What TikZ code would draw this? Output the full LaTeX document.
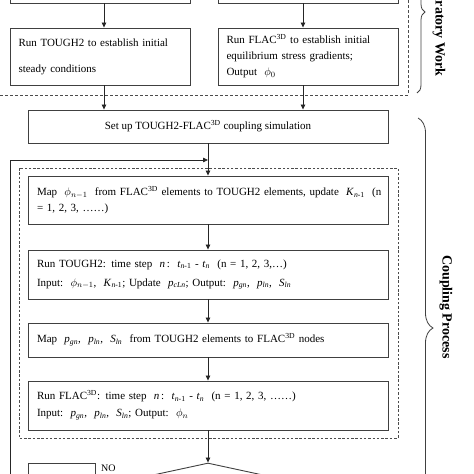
\documentclass[tikz,border=0pt]{standalone}
\usepackage{fontspec}
\setmainfont{Liberation Serif}
\usetikzlibrary{arrows.meta,shapes.geometric,decorations.pathreplacing}
\newcommand{\vr}[2]{\textit{#1}\textsubscript{\textit{#2}}}
\newcommand{\vrm}[1]{\textit{#1}\textsubscript{\textit{n}-1}}
\newcommand{\jl}[2]{\makebox[#1][s]{#2}}
\begin{document}
\begin{tikzpicture}[x=1pt,y=-1pt,
  box/.style={draw=black!75,line width=0.9pt,rectangle,inner ysep=0pt,font=\fontsize{11}{13}\selectfont},
  narrow/.style={box,minimum width=180pt,inner xsep=8.5pt,text width=163pt,align=left},
  wide/.style={box,minimum width=360pt,inner xsep=9pt,text width=342pt,align=left},
  arr/.style={draw=black!85,line width=0.8pt,-{Triangle[length=5pt,width=4.5pt]}},
  dsh/.style={draw=black!70,line width=0.9pt,dash pattern=on 3pt off 2pt},
  dsh2/.style={draw=black!70,line width=0.9pt,dash pattern=on 2.5pt off 1.8pt},
  brc/.style={draw=black!75,line width=0.8pt,decorate,decoration={brace,amplitude=#1}},
  lbl/.style={font=\fontsize{14}{16}\selectfont\bfseries,rotate=-90}]
\useasboundingbox (0,0) rectangle (474,474);
\clip (0,0) rectangle (474,474);

% top (cut) boxes
\node[box,minimum width=180pt,minimum height=40pt] (t1) at (100,-17) {};
\node[box,minimum width=180pt,minimum height=40pt] (t2) at (308,-17) {};

% preparatory boxes
\node[narrow,minimum height=57pt] (l2) at (100,56.5)
  {\jl{163pt}{Run TOUGH2 to establish initial}\\[13pt]steady conditions};
\node[narrow,minimum height=57pt] (r2) at (308,56.5)
  {\jl{163pt}{Run FLAC\textsuperscript{3D} to establish initial}\\[3pt]equilibrium stress gradients;\\[3pt]Output\ \ \(\phi_0\)};

% set up
\node[box,minimum width=360pt,minimum height=33pt] (setup) at (208,126.5)
  {Set up TOUGH2-FLAC\textsuperscript{3D} coupling simulation};

% coupling loop boxes
\node[wide,minimum height=48pt] (map1) at (208,200)
  {\jl{342pt}{Map\ \ \(\phi_{n-1}\)\ \ from FLAC\textsuperscript{3D} elements to TOUGH2 elements, update\ \ \vrm{K}\ \ (n}\\[3pt]= 1, 2, 3, \dots\dots)};
\node[wide,minimum height=49pt] (runt) at (208,274.5)
  {Run TOUGH2: time step\ \ \textit{n}\,:\ \ \vrm{t} - \vr{t}{n}\ \ (n = 1, 2, 3,\dots)\\[6pt]Input:\ \ \(\phi_{n-1}\),\ \ \vrm{K}; Update\ \ \vr{p}{cLn}; Output:\ \ \vr{p}{gn},\ \ \vr{p}{ln},\ \ \vr{S}{ln}};
\node[wide,minimum height=34pt] (map2) at (208,340)
  {Map\ \ \vr{p}{gn},\ \ \vr{p}{ln},\ \ \vr{S}{ln}\ \ from TOUGH2 elements to FLAC\textsuperscript{3D} nodes};
\node[wide,minimum height=49pt] (runf) at (208,405.5)
  {Run FLAC\textsuperscript{3D}: time step\ \ \textit{n}\,:\ \ \vrm{t} - \vr{t}{n}\ \ (n = 1, 2, 3, \dots\dots)\\[4pt]Input:\ \ \vr{p}{gn},\ \ \vr{p}{ln},\ \ \vr{S}{ln}; Output:\ \ \(\phi_n\)};

% decision and bottom box
\node[draw=black!75,line width=0.9pt,diamond,shape aspect=4.6,minimum width=240pt,minimum height=52pt,inner sep=0pt] (dec) at (208,489) {};
\node[box,minimum width=67pt,minimum height=30pt] (nob) at (61.5,478) {};
\node[anchor=west,font=\fontsize{10}{12}\selectfont,inner sep=0pt] (no) at (101,468) {NO};

% group outlines
\draw[dsh] (0,95) -- (408,95) -- (408,-5);
\draw[dsh2] (19,168) rectangle (398,438);

% arrows
\coordinate (xa) at (104,0);
\coordinate (xb) at (303,0);
\draw[arr] (t1.south -| xa) -- (l2.north -| xa);
\draw[arr] (t2.south -| xb) -- (r2.north -| xb);
\draw[arr] (l2.south -| xa) -- (setup.north -| xa);
\draw[arr] (r2.south -| xb) -- (setup.north -| xb);
\draw[arr] (setup) -- (map1);
\draw[arr] (map1) -- (runt);
\draw[arr] (runt) -- (map2);
\draw[arr] (map2) -- (runf);
\draw[arr] (runf) -- (dec.north);
\coordinate (lpB) at (10,480);
\coordinate (lpT) at (10,160);
\coordinate (lpJ) at (208,160);
\draw[arr] (lpB) -- (lpT) -- (lpJ);

% braces
\coordinate (bp1) at (417,-69);
\coordinate (bp2) at (417,93);
\draw[brc=8pt] (bp1) -- (bp2);
\node[lbl] (prep) at (439,21) {Preparatory Work};
\coordinate (bc1) at (418,118);
\coordinate (bc2) at (418,538);
\draw[brc=15pt] (bc1) -- (bc2);
\node[lbl] (coup) at (446,307) {Coupling Process};
\end{tikzpicture}
\end{document}
